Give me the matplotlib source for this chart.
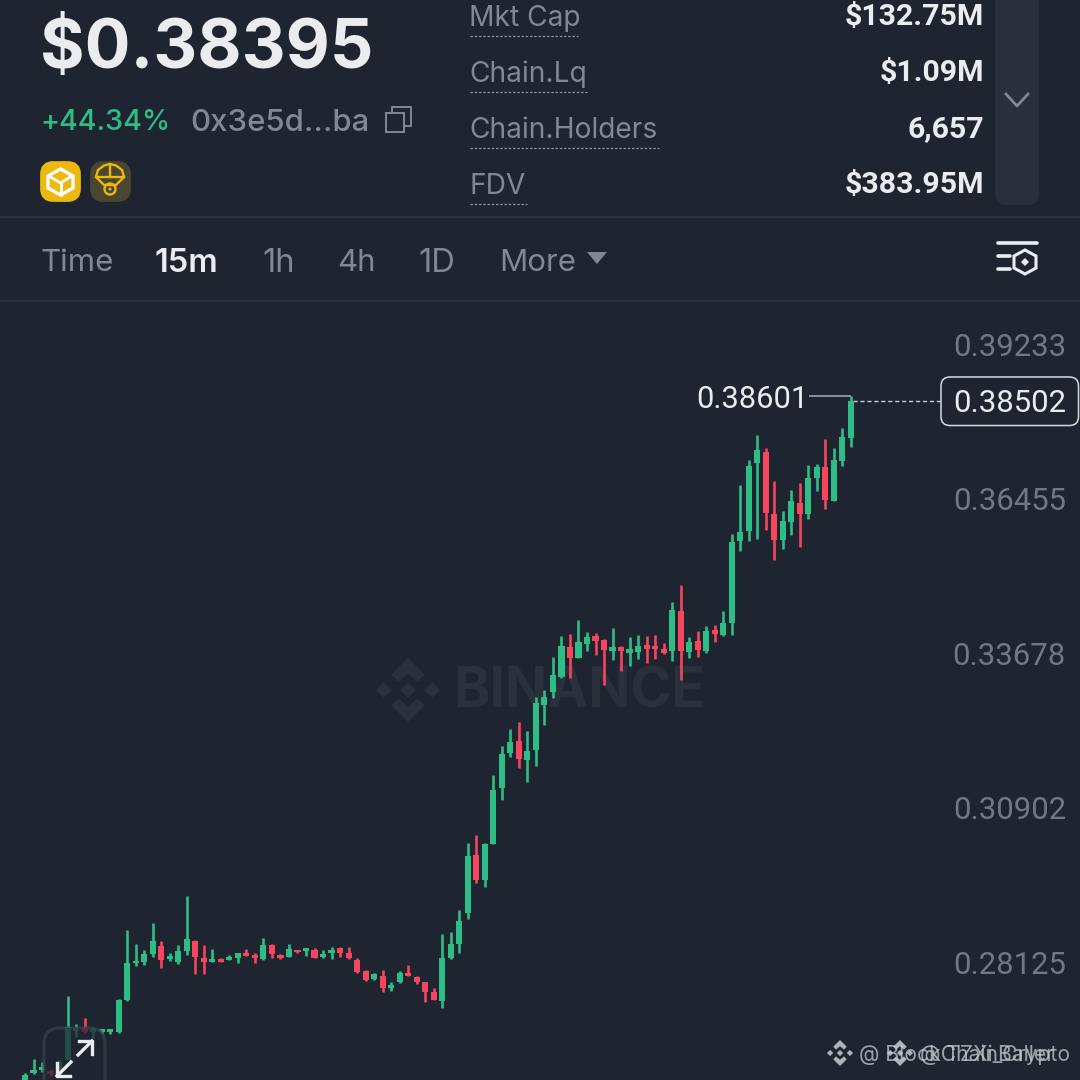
import numpy as np
import matplotlib
matplotlib.use("Agg")
import matplotlib.pyplot as plt
from matplotlib.patches import FancyBboxPatch, Polygon, Circle, Rectangle

plt.rcParams['font.family'] = ['Inter', 'DejaVu Sans']

BG = '#1E2430'; UP = '#2EBD85'; DOWN = '#F6465D'; GREY = '#7F8896'; WHITE = '#EAECEF'
NUM_FONT = ['Roboto', 'DejaVu Sans']

axis_prices = [0.39233, 0.36455, 0.33678, 0.30902, 0.28125]
axis_labels = ['0.39233', '0.36455', '0.33678', '0.30902', '0.28125']
last_price = 0.38502
high_price = 0.38601

highs = [.26424,.26675,.26621,.26496,.26657,.27808,.27304,.27412,.27250,.27215,.27215,.27754,.28994,.28743,.28635,.29120,
 .28797,.28581,.28725,.29605,.28815,.28725,.28653,.28491,.28545,.28581,.28653,.28581,.28851,.28743,.28563,.28743,
 .28635,.28671,.28671,.28635,.28689,.28689,.28689,.28491,.28275,.28221,.28275,.28060,.28257,.28365,.28167,.28060,
 .27952,.28923,.28959,.29354,.30558,.30702,.30558,.31780,.32301,.32607,.32733,.32571,.33182,.33308,.33901,.34279,
 .34315,.34566,.34351,.34333,.34225,.34423,.34099,.34261,.34297,.34279,.34297,.34153,.34890,.35195,.34261,.34369,
 .34458,.34476,.34728,.36112,.36993,.37442,.37891,.37658,.37064,.36525,.36903,.37028,.37352,.37370,.37819,.37658,
 .38017,.38601]
body_tops = [.26388,.26478,.26532,.26460,.26621,.27250,.27233,.27233,.27215,.27215,.27215,.27736,.28401,.28437,.28563,.28797,
 .28707,.28527,.28617,.28833,.28797,.28491,.28473,.28473,.28509,.28581,.28581,.28545,.28725,.28725,.28545,.28653,
 .28635,.28671,.28635,.28563,.28635,.28671,.28581,.28455,.28257,.28203,.28167,.28006,.28221,.28221,.28149,.28060,
 .27880,.28491,.28743,.29156,.30324,.30342,.30540,.31511,.32158,.32373,.32391,.32212,.33074,.33182,.33578,.34099,
 .34081,.34171,.34261,.34279,.34207,.34081,.34081,.34045,.34099,.34117,.34099,.34045,.34746,.34728,.34171,.34189,
 .34369,.34386,.34512,.35968,.36148,.37334,.37622,.37586,.36471,.36346,.36705,.36669,.37118,.37316,.37316,.37442,
 .37855,.38502]
body_bots = [.26262,.26424,.26478,.26406,.26388,.26657,.27179,.27161,.27161,.27161,.27161,.27161,.27736,.28401,.28419,.28563,
 .28455,.28473,.28419,.28617,.28509,.28419,.28419,.28419,.28455,.28491,.28527,.28491,.28473,.28563,.28491,.28509,
 .28599,.28617,.28491,.28509,.28581,.28581,.28491,.28239,.28096,.28114,.27952,.27952,.28060,.28167,.28060,.27880,
 .27736,.27718,.28491,.28743,.29300,.29893,.29893,.30540,.31546,.32176,.32068,.32050,.32230,.33038,.33272,.33542,
 .33883,.33883,.34135,.34189,.34027,.34009,.34009,.33973,.33991,.34045,.34045,.33973,.34009,.34009,.33991,.34027,
 .34009,.34315,.34297,.34512,.35986,.36166,.37388,.36489,.36004,.36004,.36328,.36471,.36471,.37118,.36723,.36705,
 .37424,.37837]
lows = [.26226,.26406,.26442,.26370,.26352,.26657,.27071,.27143,.27053,.27125,.27125,.27143,.27718,.28347,.28365,.28509,
 .28311,.28437,.28383,.28545,.28203,.28203,.28419,.28419,.28455,.28401,.28527,.28401,.28455,.28491,.28473,.28509,
 .28581,.28527,.28491,.28491,.28473,.28509,.28473,.28221,.28078,.28096,.27880,.27898,.28042,.28167,.28024,.27700,
 .27736,.27592,.28473,.28581,.29192,.29839,.29767,.30540,.31331,.32104,.31906,.31654,.31942,.32679,.33164,.33524,
 .33524,.33883,.34009,.33937,.33398,.33847,.33649,.33739,.33865,.33793,.33865,.33955,.33829,.33488,.33883,.33901,
 .33973,.34171,.34279,.34297,.35806,.35986,.36022,.36184,.35645,.35842,.36094,.35878,.36382,.36885,.36561,.36705,
 .37334,.37676]
is_up = [1,1,1,0,1,1,1,0,1,1,1,1,1,1,1,1,
 0,1,1,1,0,0,1,0,1,1,0,0,1,0,0,1,
 0,1,0,1,1,0,0,0,0,1,0,1,1,0,0,0,
 0,1,1,1,1,0,1,1,1,1,0,1,1,1,1,1,
 0,1,1,0,0,1,0,1,1,0,0,0,1,0,1,0,
 1,0,1,1,1,1,1,0,0,1,1,0,1,1,0,1,
 1,1]

fig = plt.figure(figsize=(10.8, 10.8), dpi=100, facecolor=BG)

# ---------- chart axes (spans the figure so the price scale lines up)
ax = fig.add_axes([0, 0, 1, 1], facecolor=BG, zorder=1)
ax.set_xlim(-2.936, 123.9)
ax.set_ylim(0.26298, 0.4571)
ax.axis('off')

idx = np.arange(len(highs))
colors = [UP if u else DOWN for u in is_up]
ax.vlines(idx, lows, highs, colors=colors, linewidth=1.9, zorder=3)
ax.bar(idx, np.array(body_tops) - np.array(body_bots), bottom=body_bots, width=0.72,
       color=colors, linewidth=0, zorder=4)

for p, lab in zip(axis_prices, axis_labels):
    ax.annotate(lab, xy=(1, p), xycoords=('axes fraction', 'data'), xytext=(-14, 13.3),
                textcoords='offset pixels', ha='right', va='center', fontsize=22.4,
                family=NUM_FONT, color='#6F7886')

ax.annotate('0.38601', xy=(idx[-1], high_price), xytext=(-155, -3.5), textcoords='offset pixels',
            ha='left', va='center', fontsize=22.2, family=NUM_FONT, color=WHITE, zorder=6)
ax.hlines(high_price, 92.07, idx[-1], colors='#A9AEB6', linewidth=1.1, zorder=5)
ax.plot([idx[-1] + 0.2, 107.5], [last_price, last_price], color='#C9CCD1', lw=1.0,
        dashes=(3, 2), zorder=2)
ax.annotate('0.38502', xy=(1, last_price), xycoords=('axes fraction', 'data'), xytext=(-70, -2),
            textcoords='offset pixels', ha='center', va='center', fontsize=22.4, family=NUM_FONT,
            color=WHITE, zorder=6)

# ---------- interface overlay in pixel coordinates
ui = fig.add_axes([0, 0, 1, 1], zorder=2)
ui.set_xlim(0, 1080); ui.set_ylim(1080, 0)
ui.axis('off'); ui.patch.set_alpha(0)


def diamond(a, cx, cy, s, color, alpha=1.0, z=1):
    """Binance mark: centre + side diamonds + two chevrons."""
    def d(x, y, r):
        a.add_patch(Polygon([(x, y - r), (x + r, y), (x, y + r), (x - r, y)], closed=True,
                            fc=color, ec='none', alpha=alpha, zorder=z))
    d(cx, cy, s * .24); d(cx - s * .76, cy, s * .24); d(cx + s * .76, cy, s * .24)
    for sg in (-1, 1):
        a.add_patch(Polygon([(cx, cy + sg * s),
                             (cx + s * .52, cy + sg * .48 * s), (cx + s * .30, cy + sg * .26 * s),
                             (cx, cy + sg * .52 * s), (cx - s * .30, cy + sg * .26 * s),
                             (cx - s * .52, cy + sg * .48 * s)],
                            closed=True, fc=color, ec='none', alpha=alpha, zorder=z))


# watermark
diamond(ui, 408, 690, 32, '#2A303C', z=0.5)
ax.text(453 / 1080, 1 - 693 / 1080, 'BINANCE', transform=ax.transAxes, fontsize=39.8, fontweight='bold',
        color='#2A303C', va='center', ha='left', zorder=0.5)

# header
ui.text(40, 50, '$0.38395', fontsize=49, fontweight='bold', color=WHITE, va='center', ha='left')
ui.text(40, 123, '+44.34%', fontsize=20.6, fontweight='medium', color=UP, va='center', ha='left')
ui.text(190, 123, '0x3e5d...ba', fontsize=22.4, fontweight='medium', color=GREY, va='center', ha='left')
ui.add_patch(Rectangle((386, 113), 18, 19, fc='none', ec=GREY, lw=1.4))
ui.plot([392, 392, 411, 411, 405], [113, 107, 107, 126, 126], color=GREY, lw=1.4)

ui.add_patch(FancyBboxPatch((45, 166), 31, 31, boxstyle='round,pad=0,rounding_size=8', mutation_aspect=1,
                            fc='#EEB90F', ec='#EEB90F', lw=7))
ui.add_patch(Polygon([(60.5, 169), (73, 176), (73, 188), (60.5, 195), (48, 188), (48, 176)],
                     closed=True, fc='none', ec='#FFFFFF', lw=2.4))
ui.plot([49, 60.5, 72], [176, 183, 176], color='#FFFFFF', lw=2)
ui.plot([60.5, 60.5], [183, 195], color='#FFFFFF', lw=2)
ui.add_patch(FancyBboxPatch((95, 166), 31, 31, boxstyle='round,pad=0,rounding_size=8',
                            fc='#4A4730', ec='#4A4730', lw=7))
ui.add_patch(Polygon([(96, 177), (98, 170), (104, 165.5), (110, 164), (116, 165.5), (122, 170), (124, 177), (116, 185), (104, 185)],
                     closed=True, fc='none', ec='#EEB90F', lw=1.7))
ui.plot([96, 124], [177, 177], color='#EEB90F', lw=1.7)
ui.plot([110, 110], [164, 177], color='#EEB90F', lw=1.7)
ui.add_patch(Circle((110, 189), 5.5, fc='none', ec='#EEB90F', lw=1.7))
ui.add_patch(Circle((110, 189), 1.5, fc='#EEB90F', ec='none'))

rows = [('Mkt Cap', '$132.75M', 16, 578), ('Chain.Lq', '$1.09M', 72, 587),
        ('Chain.Holders', '6,657', 128, 659), ('FDV', '$383.95M', 184, 527)]
for name, val, y, xe in rows:
    ui.text(469, y + 2, name, fontsize=20.3, color=GREY, va='center', ha='left')
    ui.text(984, y + 1.5, val, fontsize=21.8, fontweight='bold', family=NUM_FONT, color=WHITE, va='center', ha='right')
    ui.plot([470, xe], [y + 19.5, y + 19.5], color='#8A929E', lw=0.9, dashes=(2, 1.4))

ui.add_patch(FancyBboxPatch((995, -20), 44, 225, boxstyle='round,pad=0,rounding_size=12',
                            fc='#2A303B', ec='none'))
ui.plot([1006, 1017, 1028], [94, 106, 94], color='#7F8896', lw=2)

ui.plot([0, 1080], [216.5, 216.5], color='#2F3641', lw=1.2)
ui.plot([0, 1080], [301, 301], color='#2B323D', lw=1.6)

tabs = [('Time', 41, GREY, 'normal', 22.5), ('15m', 155, WHITE, 'semibold', 23.5), ('1h', 262, GREY, 'normal', 23.5),
        ('4h', 337, GREY, 'normal', 22.5), ('1D', 418, GREY, 'normal', 23.5), ('More', 499, GREY, 'normal', 22.5)]
for t, x, c, w, fs in tabs:
    ui.text(x, 263, t, fontsize=fs, color=c, fontweight=w, va='center', ha='left')
ui.add_patch(Polygon([(587, 252), (607, 252), (597, 264)], closed=True, fc=GREY, ec='none'))

ui.plot([998, 1037], [243, 243], color=WHITE, lw=2.6, solid_capstyle='round')
ui.plot([998, 1010], [256, 256], color=WHITE, lw=2.6, solid_capstyle='round')
ui.plot([998, 1010], [269, 269], color=WHITE, lw=2.6, solid_capstyle='round')
ui.add_patch(Polygon([(1025, 250), (1036, 256), (1036, 268), (1025, 274), (1014, 268), (1014, 256)],
                     closed=True, fc='none', ec=WHITE, lw=2.2))
ui.add_patch(Polygon([(1025, 258), (1029, 262), (1025, 266), (1021, 262)], closed=True, fc=WHITE, ec='none'))

# current price box
ui.add_patch(FancyBboxPatch((941, 377), 137.5, 48.5, boxstyle='round,pad=0,rounding_size=9',
                            fc='none', ec='#D9DBDF', lw=1.1, zorder=1))

# expand button
ui.add_patch(FancyBboxPatch((44, 1028), 61, 70, boxstyle='round,pad=0,rounding_size=16',
                            fc=BG, ec='#3A404B', lw=2.2, alpha=0.72))
for (x0, y0, x1, y1) in [(78, 1055, 92, 1041), (71, 1062, 57, 1076)]:
    ui.plot([x0, x1], [y0, y1], color=WHITE, lw=2.4)
ui.plot([79, 92, 92], [1041, 1041, 1054], color=WHITE, lw=2.4)
ui.plot([57, 57, 70], [1063, 1076, 1076], color=WHITE, lw=2.4)

# bottom-right overlapping credits
diamond(ui, 840, 1053, 13, '#C9CCD1', alpha=.85)
ui.text(859, 1055, '@ BlockChainBaller', fontsize=15.2, color='#C9CCD1', alpha=.75, va='center', ha='left')
diamond(ui, 900, 1053, 13, '#C9CCD1', alpha=.85)
ui.text(920, 1055, '@ TZXi_Crypto', fontsize=15.2, color='#C9CCD1', alpha=.75, va='center', ha='left')

fig.savefig('out.png', dpi=100, facecolor=BG)
